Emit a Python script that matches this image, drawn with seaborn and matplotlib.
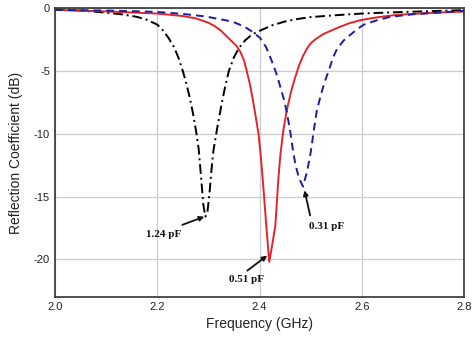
import matplotlib
matplotlib.use("Agg")
import matplotlib.pyplot as plt
import seaborn as sns
from matplotlib.ticker import MultipleLocator

# ---- data ----
f_124 = [2.00, 2.05, 2.10, 2.13, 2.16, 2.18, 2.20, 2.21, 2.222, 2.233, 2.242, 2.250,
         2.257, 2.264, 2.270, 2.276, 2.281, 2.286, 2.290, 2.294, 2.298, 2.302,
         2.306, 2.310, 2.317, 2.326, 2.333, 2.340, 2.350, 2.360, 2.372, 2.385,
         2.400, 2.425, 2.450, 2.475, 2.500, 2.550, 2.600, 2.650, 2.700, 2.800]
s_124 = [-0.10, -0.18, -0.35, -0.48, -0.68, -0.92, -1.30, -1.70, -2.36, -3.10, -4.0, -5.0,
         -6.0, -7.2, -8.4, -9.8, -11.2, -13.6, -15.6, -16.6, -16.3, -14.8,
         -12.9, -11.3, -9.6, -7.6, -6.2, -5.0, -3.9, -3.15, -2.55, -2.1,
         -1.8, -1.35, -1.05, -0.85, -0.70, -0.55, -0.42, -0.34, -0.27, -0.15]

f_051 = [2.00, 2.10, 2.20, 2.25, 2.275, 2.30, 2.313, 2.325, 2.339, 2.355, 2.363,
         2.370, 2.375, 2.381, 2.387, 2.392, 2.398, 2.403, 2.408, 2.413, 2.419,
         2.425, 2.431, 2.437, 2.441, 2.447, 2.454, 2.462, 2.469, 2.477, 2.485,
         2.493, 2.500, 2.510, 2.525, 2.550, 2.575, 2.597, 2.630, 2.669, 2.730, 2.800]
s_051 = [-0.13, -0.25, -0.42, -0.62, -0.80, -1.15, -1.44, -1.80, -2.36, -3.0, -3.5,
         -4.2, -5.0, -6.0, -7.3, -8.5, -10.0, -12.0, -14.5, -17.2, -20.2,
         -18.8, -17.3, -13.5, -11.6, -9.6, -8.0, -6.6, -5.6, -4.6, -3.8,
         -3.2, -2.8, -2.45, -2.05, -1.6, -1.2, -0.95, -0.72, -0.52, -0.38, -0.26]

f_031 = [2.00, 2.10, 2.196, 2.25, 2.294, 2.32, 2.346, 2.37, 2.385, 2.401, 2.413,
         2.424, 2.433, 2.441, 2.448, 2.454, 2.460, 2.465, 2.470, 2.477, 2.485,
         2.493, 2.500, 2.506, 2.512, 2.520, 2.528, 2.536, 2.544, 2.552, 2.565,
         2.578, 2.590, 2.604, 2.630, 2.656, 2.700, 2.734, 2.800]
s_031 = [-0.13, -0.18, -0.28, -0.45, -0.65, -0.85, -1.05, -1.45, -1.84, -2.36, -3.1,
         -4.2, -5.2, -6.3, -7.3, -8.4, -9.8, -11.2, -12.4, -13.5, -14.2,
         -13.0, -11.5, -9.8, -8.15, -6.9, -5.8, -4.9, -3.9, -3.2, -2.55,
         -2.1, -1.7, -1.3, -0.95, -0.68, -0.48, -0.39, -0.20]

labels = ["1.24 pF", "0.51 pF", "0.31 pF"]
label_xy = [(2.2115, -18.04), (2.375, -21.57), (2.532, -17.4)]
arrow_tail = [(2.249, -17.25), (2.376, -20.9), (2.499, -16.5)]
arrow_head = [(2.292, -16.6), (2.415, -19.7), (2.488, -14.5)]

x_ticks = [2.0, 2.2, 2.4, 2.6, 2.8]
y_ticks = [0, -5, -10, -15, -20]

# ---- plot ----
sns.set_style("white")
plt.rcParams['font.family'] = ['Liberation Sans', 'DejaVu Sans']

fig = plt.figure(figsize=(4.74, 3.45), dpi=100)
ax = fig.add_axes([0.116, 0.139, 0.863, 0.837])

sns.lineplot(x=f_124, y=s_124, ax=ax, color="black", lw=1.4,
             linestyle=(0, (5, 2, 1, 2)), sort=False, estimator=None)
sns.lineplot(x=f_051, y=s_051, ax=ax, color="#e0262b", lw=1.4,
             sort=False, estimator=None)
sns.lineplot(x=f_031, y=s_031, ax=ax, color="#1c1ca0", lw=1.4,
             linestyle=(0, (4, 2.6)), sort=False, estimator=None)

ax.set_xlim(2.0, 2.8)
ax.set_ylim(-23, 0)
ax.set_xticks(x_ticks)
ax.set_xticklabels([f"{v:.1f}" for v in x_ticks])
ax.set_yticks(y_ticks)
ax.set_yticklabels([str(v) for v in y_ticks])
ax.xaxis.set_minor_locator(MultipleLocator(0.1))
ax.yaxis.set_minor_locator(MultipleLocator(2.5))
ax.grid(True, which="major", color="#cccccc", lw=0.9)
ax.set_axisbelow(True)
ax.tick_params(which="both", direction="in", colors="#333333", labelsize=8,
               labelcolor="#222222")
ax.tick_params(which="major", length=4, width=0.9)
ax.tick_params(which="minor", length=2.5, width=0.9)
for sp in ax.spines.values():
    sp.set_color("#333333")
    sp.set_linewidth(1.2)

ax.set_xlabel("Frequency (GHz)", fontsize=10, color="#222222", labelpad=4)
ax.set_ylabel("Reflection Coefficient (dB)", fontsize=10, color="#222222", labelpad=8)

for lab, txy, tail, head in zip(labels, label_xy, arrow_tail, arrow_head):
    ax.text(txy[0], txy[1], lab, ha="center", va="center", fontsize=8,
            fontweight="bold", family=["Liberation Serif", "DejaVu Serif"], color="#111111")
    ax.annotate("", xy=head, xytext=tail,
                arrowprops=dict(arrowstyle="-|>", color="#111111", lw=1.3,
                                mutation_scale=7, shrinkA=0, shrinkB=0))

fig.savefig("out.png", dpi=100)
